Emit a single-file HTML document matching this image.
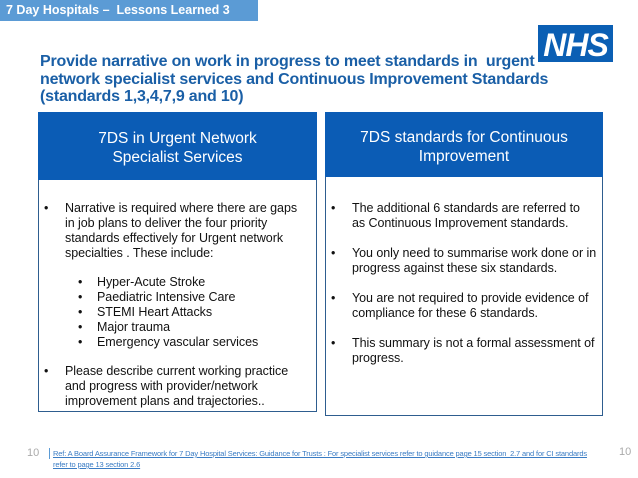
<!DOCTYPE html>
<html><head><meta charset="utf-8"><style>
body{margin:0;width:638px;height:478px;background:#fff;position:relative;overflow:hidden;font-family:"Liberation Sans",sans-serif}
.abs{position:absolute}
#banner{left:0;top:0;width:258px;height:21px;background:#5b9bd5;color:#fff;font-weight:bold;font-size:12.5px;line-height:21px;padding-left:6px;box-sizing:border-box;white-space:nowrap}
#nhs{left:538px;top:25px;width:75px;height:37px;background:#0b5fb4;color:#fff;font-weight:bold;font-style:italic;font-size:32px;line-height:37px;text-align:center;letter-spacing:-1px;box-sizing:border-box;border:2px solid #0b5fb4}
#title{left:40px;top:53px;width:580px;color:#1a5fa6;font-weight:bold;font-size:16px;letter-spacing:-0.2px;line-height:17.5px;white-space:nowrap}
.box{border:1px solid #2e5d8f;box-sizing:border-box}
.hdr{background:#0b5cb5;color:#fff;font-size:15.5px;line-height:19px;text-align:center;box-sizing:border-box}
ul{margin:0;padding:0;list-style:none}
li{position:relative;padding-left:21px;font-size:12.5px;letter-spacing:-0.05px;line-height:15px;color:#111;white-space:nowrap}
li:before{content:"•";position:absolute;left:0}
.sub li{padding-left:53px}
.sub li:before{left:34px}
</style></head><body>
<div id="banner" class="abs">7 Day Hospitals –&nbsp; Lessons Learned 3</div>
<div id="nhs" class="abs">NHS</div>
<div id="title" class="abs">Provide narrative on work in progress to meet standards in&nbsp; urgent<br>network specialist services and Continuous Improvement Standards<br>(standards 1,3,4,7,9 and 10)</div>

<div class="abs box" style="left:38px;top:112px;width:279px;height:300px"></div>
<div class="abs hdr" style="left:38px;top:112px;width:279px;height:68px;padding-top:17px">7DS in Urgent Network<br>Specialist Services</div>
<div class="abs" style="left:44px;top:201px;width:272px">
<ul>
<li>Narrative is required where there are gaps<br>in job plans to deliver the four priority<br>standards effectively for Urgent network<br>specialties . These include:</li>
</ul>
<ul class="sub" style="margin-top:14px">
<li>Hyper-Acute Stroke</li><li>Paediatric Intensive Care</li><li>STEMI Heart Attacks</li><li>Major trauma</li><li>Emergency vascular services</li>
</ul>
<ul style="margin-top:14px"><li>Please describe current working practice<br>and progress with provider/network<br>improvement plans and trajectories..</li></ul>
</div>

<div class="abs box" style="left:325px;top:112px;width:278px;height:304px"></div>
<div class="abs hdr" style="left:325px;top:112px;width:278px;height:65px;padding-top:16px">7DS standards for Continuous<br>Improvement</div>
<div class="abs" style="left:331px;top:201px;width:272px">
<ul>
<li>The additional 6 standards are referred to<br>as Continuous Improvement standards.</li>
<li style="margin-top:15px">You only need to summarise work done or in<br>progress against these six standards.</li>
<li style="margin-top:15px">You are not required to provide evidence of<br>compliance for these 6 standards.</li>
<li style="margin-top:15px">This summary is not a formal assessment of<br>progress.</li>
</ul></div>

<div class="abs" style="left:27px;top:447px;font-size:11px;color:#aaa">10</div>
<div class="abs" style="left:49px;top:448px;width:1px;height:11px;background:#5b9bd5"></div>
<div class="abs" style="left:53px;top:448px;width:560px;font-size:7.5px;letter-spacing:-0.15px;line-height:11px;color:#3a7cc4;text-decoration:underline;white-space:nowrap">Ref: A Board Assurance Framework for 7 Day Hospital Services: Guidance for Trusts : For specialist services refer to guidance page 15 section&nbsp; 2.7 and for CI standards<br>refer to page 13 section 2.6</div>
<div class="abs" style="left:619px;top:446px;font-size:11px;color:#aaa">10</div>
</body></html>
